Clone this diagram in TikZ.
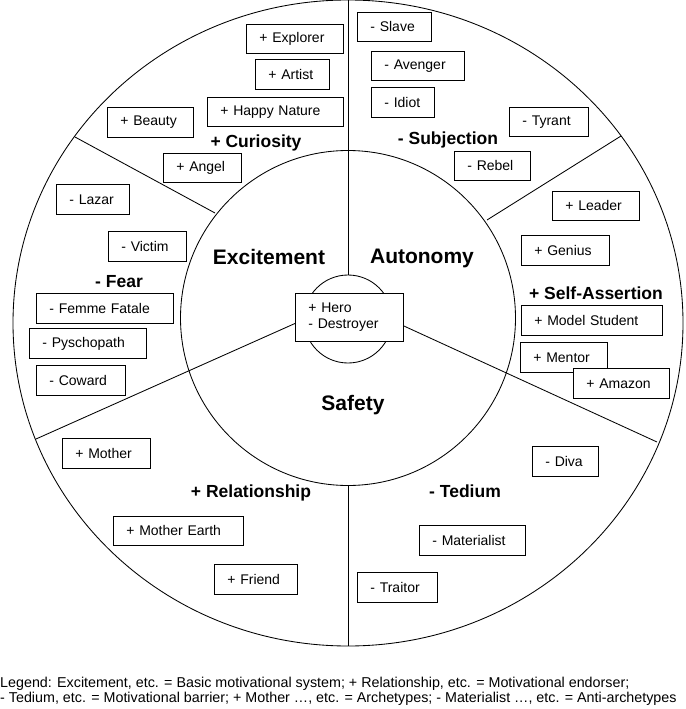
\documentclass[tikz,border=0pt]{standalone}
\usepackage{fontspec}
\setmainfont{Liberation Sans}
\tikzset{
  arch/.style={draw, fill=white, font=\fontsize{14}{16}\selectfont, align=left,
    inner xsep=13pt, inner ysep=0pt, anchor=north west, line width=0.9pt},
  motive/.style={font=\bfseries\fontsize{17.5}{20}\selectfont, inner sep=0pt},
  system/.style={font=\bfseries\fontsize{21}{24}\selectfont, inner sep=0pt},
  ring/.style={draw, line width=0.85pt},
  divider/.style={draw, line width=0.85pt},
}
\newcommand\abox[6]{%
  \pgfmathsetmacro\bw{#4-#2-26}%
  \pgfmathsetmacro\bh{#5-#3}%
  \node[arch, text width=\bw pt, minimum height=\bh pt] (#1) at (#2,#3) {#6};}
\begin{document}
\begin{tikzpicture}[x=1pt,y=-1pt]
\useasboundingbox (0,0) rectangle (685,709);
% rings
\draw[ring] (348,323) ellipse [x radius=335, y radius=323];
\draw[ring] (348,318) circle [radius=167.5];
\draw[ring] (348,319) circle [radius=44];
% divider end points
\coordinate (topO) at (348,0);
\coordinate (topS) at (348,275);
\coordinate (botI) at (348,485.5);
\coordinate (botO) at (348,646);
\coordinate (efO) at (75,137);
\coordinate (efI) at (215,213);
\coordinate (saO) at (621,136);
\coordinate (saI) at (487,220);
\coordinate (frO) at (36,439);
\coordinate (frC) at (305,319);
\coordinate (stO) at (657,442);
\coordinate (stC) at (393,321);
\draw[divider] (topO) -- (topS);
\draw[divider] (botI) -- (botO);
\draw[divider] (efO) -- (efI);
\draw[divider] (saO) -- (saI);
\draw[divider] (frO) -- (frC);
\draw[divider] (stO) -- (stC);
% system labels
\node[system] (excitement) at (269,257) {Excitement};
\node[system] (autonomy) at (422,258) {Autonomy};
\node[system] (safety) at (353,405) {Safety};
% motive labels
\node[motive] (curiosity) at (256,143) {+ Curiosity};
\node[motive] (subjection) at (448,140) {- Subjection};
\node[motive] (fear) at (119,282) {- Fear};
\node[motive] (selfassert) at (596,293) {+ Self-Assertion};
\node[motive] (relationship) at (251,493) {+ Relationship};
\node[motive] (tedium) at (465,491) {- Tedium};
% center
\node[arch, text width=82pt, minimum height=48pt] (hero) at (295,293) {+ Hero\\- Destroyer};
% archetype boxes
\abox{explorer}{246}{24}{343}{53}{+ Explorer}
\abox{artist}{255}{59}{329}{89}{+ Artist}
\abox{happy}{207}{97}{343}{126}{+ Happy Nature}
\abox{beauty}{107}{107}{193}{137}{+ Beauty}
\abox{angel}{163}{153}{241}{182}{+ Angel}
\abox{lazar}{56}{184}{129}{214}{- Lazar}
\abox{victim}{108}{231}{186}{261}{- Victim}
\abox{femme}{36}{293}{173}{323}{- Femme Fatale}
\abox{pyscho}{29}{328}{146}{358}{- Pyschopath}
\abox{coward}{36}{365}{125}{395}{- Coward}
\abox{mother}{62}{438}{150}{468}{+ Mother}
\abox{earth}{113}{516}{243}{545}{+ Mother Earth}
\abox{friend}{214}{564}{297}{594}{+ Friend}
\abox{slave}{357}{12}{431}{41}{- Slave}
\abox{avenger}{371}{51}{464}{80}{- Avenger}
\abox{idiot}{371}{87}{434}{117}{- Idiot}
\abox{tyrant}{509}{107}{588}{136}{- Tyrant}
\abox{rebel}{454}{151}{530}{180}{- Rebel}
\abox{leader}{552}{191}{639}{220}{+ Leader}
\abox{genius}{521}{235}{609}{265}{+ Genius}
\abox{model}{521}{305}{662}{335}{+ Model Student}
\abox{mentor}{520}{342}{607}{372}{+ Mentor}
\abox{amazon}{573}{368}{669}{398}{+ Amazon}
\abox{diva}{532}{446}{598}{476}{- Diva}
\abox{material}{419}{525}{525}{555}{- Materialist}
\abox{traitor}{357}{572}{437}{602}{- Traitor}
% legend
\node[anchor=west, align=left, inner sep=0pt, font=\fontsize{14.3}{15.5}\selectfont] (legend) at (0,691.5)
  {Legend: Excitement, etc. = Basic motivational system; + Relationship, etc. = Motivational endorser;\\
   - Tedium, etc. = Motivational barrier; + Mother …, etc. = Archetypes; - Materialist …, etc. = Anti-archetypes};
\end{tikzpicture}
\end{document}
